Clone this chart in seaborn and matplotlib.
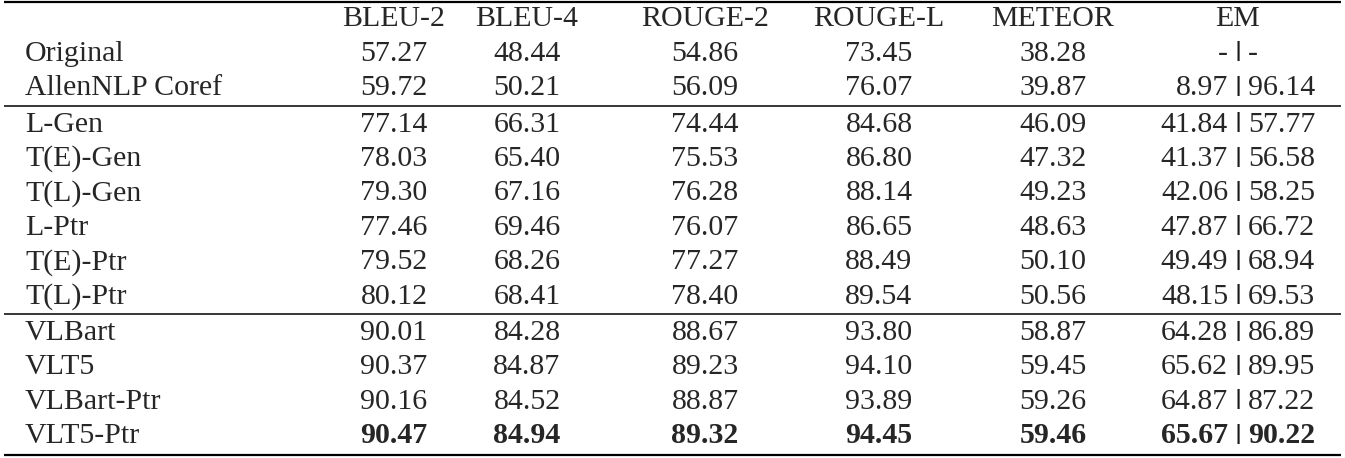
import numpy as np
import pandas as pd
import matplotlib
matplotlib.use("Agg")
import matplotlib.pyplot as plt
import seaborn as sns

# table contents
methods = ["Original", "AllenNLP Coref", "L-Gen", "T(E)-Gen", "T(L)-Gen", "L-Ptr",
           "T(E)-Ptr", "T(L)-Ptr", "VLBart", "VLT5", "VLBart-Ptr", "VLT5-Ptr"]
metrics = ["BLEU-2", "BLEU-4", "ROUGE-2", "ROUGE-L", "METEOR"]
bleu2 = [57.27, 59.72, 77.14, 78.03, 79.30, 77.46, 79.52, 80.12, 90.01, 90.37, 90.16, 90.47]
bleu4 = [48.44, 50.21, 66.31, 65.40, 67.16, 69.46, 68.26, 68.41, 84.28, 84.87, 84.52, 84.94]
rouge2 = [54.86, 56.09, 74.44, 75.53, 76.28, 76.07, 77.27, 78.40, 88.67, 89.23, 88.87, 89.32]
rougel = [73.45, 76.07, 84.68, 86.80, 88.14, 86.65, 88.49, 89.54, 93.80, 94.10, 93.89, 94.45]
meteor = [38.28, 39.87, 46.09, 47.32, 49.23, 48.63, 50.10, 50.56, 58.87, 59.45, 59.26, 59.46]
em_left = [None, 8.97, 41.84, 41.37, 42.06, 47.87, 49.49, 48.15, 64.28, 65.62, 64.87, 65.67]
em_right = [None, 96.14, 57.77, 56.58, 58.25, 66.72, 68.94, 69.53, 86.89, 89.95, 87.22, 90.22]
bold_rows = ["VLT5-Ptr"]
groups_end = ["AllenNLP Coref", "T(L)-Ptr"]  # rule drawn below these rows

df = pd.DataFrame({"BLEU-2": bleu2, "BLEU-4": bleu4, "ROUGE-2": rouge2,
                   "ROUGE-L": rougel, "METEOR": meteor}, index=methods)

sns.set_theme(style="white")
plt.rcParams["font.family"] = ["Liberation Serif", "DejaVu Serif"]

W, H = 1345, 458
fig = plt.figure(figsize=(W / 100, H / 100), dpi=100)
ax = fig.add_axes([0, 0, 1, 1])
ax.set_xlim(0, W)
ax.set_ylim(H, 0)
ax.axis("off")

fs = 21.5
label_x = 25
col_x = [394, 527, 705, 879, 1053]
em_x = 1238
pitch = 34.4
rule_gap = 2.0


def em_cell(y, left, right, weight):
    # short separator bar resting on the baseline, same in every row
    ax.text(em_x, y - 4.5, "|", ha="center", va="baseline", fontsize=14,
            family="DejaVu Sans", fontweight="bold", color="#1a1a1a")
    ax.text(em_x - 10, y, left, ha="right", va="baseline", fontsize=fs, fontweight=weight)
    ax.text(em_x + 10, y, right, ha="left", va="baseline", fontsize=fs, fontweight=weight)


# header
y = 26.5
for m, x in zip(metrics, col_x):
    ax.text(x, y, m, ha="center", va="baseline", fontsize=fs)
ax.text(em_x, y, "EM", ha="center", va="baseline", fontsize=fs)

rules = [2]
for i, name in enumerate(methods):
    y += pitch
    w = "bold" if name in bold_rows else "normal"
    ax.text(label_x, y, name, ha="left", va="baseline", fontsize=fs)
    for m, x in zip(metrics, col_x):
        ax.text(x, y, f"{df.loc[name, m]:.2f}", ha="center", va="baseline",
                fontsize=fs, fontweight=w)
    left = "-" if em_left[i] is None else f"{em_left[i]:.2f}"
    right = "-" if em_right[i] is None else f"{em_right[i]:.2f}"
    em_cell(y, left, right, w)
    if name in groups_end:
        rules.append(y + 10.5)
        y += rule_gap
rules.append(y + 12)

for k, ry in enumerate(rules):
    lw = 1.6 if k in (0, len(rules) - 1) else 1.1
    ax.plot([4, 1341], [ry, ry], color="black", lw=lw, solid_capstyle="butt")

fig.savefig("out.png", dpi=100, facecolor="white")
